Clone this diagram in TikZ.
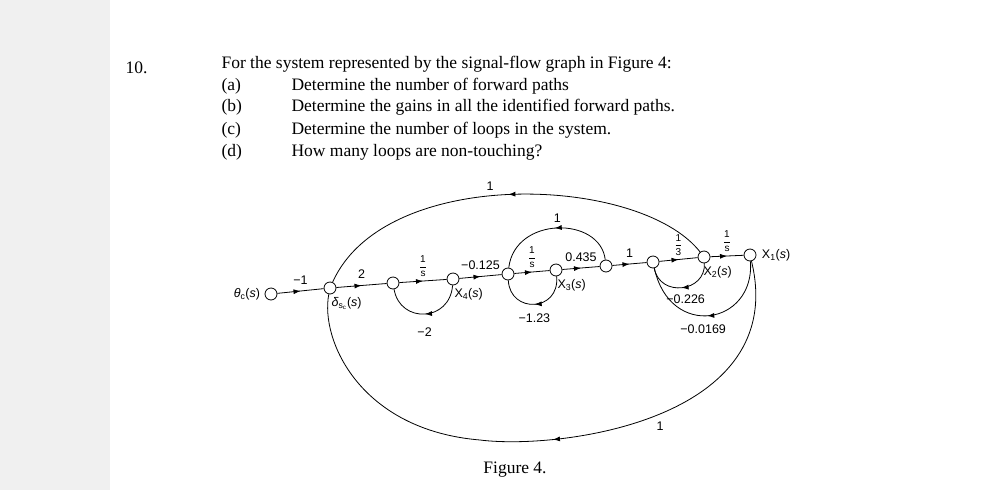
\documentclass[tikz,border=0pt]{standalone}
\usepackage{fix-cm}
\usepackage{amsmath}
\usepackage{fontspec}
\setmainfont{Liberation Serif}
\newfontfamily\lab{Liberation Sans}
\newcommand{\fr}[2]{$\displaystyle\frac{\text{#1}}{\text{#2}}$}
\usetikzlibrary{decorations.markings,arrows.meta}
\begin{document}
\begin{tikzpicture}[x=1pt,y=-1pt,
  nd/.style={circle,draw,thick,inner sep=0pt,minimum size=12pt,fill=white},
  fl/.style={thick,postaction=decorate,decoration={markings,mark=at position #1 with {\arrow{Latex[length=7pt,width=5pt]}}}},
  fl/.default=0.5,
  gl/.style={font=\lab\fontsize{12.5}{14}\selectfont},
  fg/.style={font=\lab\fontsize{10}{11}\selectfont,inner sep=1pt},
  qt/.style={anchor=west,font=\fontsize{17.5}{20}\selectfont}]
\fill[gray!12] (0,0) rectangle (1008,490);
\fill[white] (110,0) -- (1008,0) -- (1008,490) -- (110,490) -- cycle;
\useasboundingbox (0,0) rectangle (1008,490);
% question text
\node[qt] (num) at (122,68) {10.};
\node[qt] (q0) at (218,64) {For the system represented by the signal-flow graph in Figure 4:};
\node[qt] (qa) at (218,86) {(a)};
\node[qt] (qb) at (218,107) {(b)};
\node[qt] (qc) at (218,130) {(c)};
\node[qt] (qd) at (218,152) {(d)};
\node[qt] (ta) at (288,86) {Determine the number of forward paths};
\node[qt] (tb) at (288,107) {Determine the gains in all the identified forward paths.};
\node[qt] (tc) at (288,130) {Determine the number of loops in the system.};
\node[qt] (td) at (288,152) {How many loops are non-touching?};
% nodes
\node[nd] (th) at (271,294) {};
\node[nd] (d) at (330,288) {};
\node[nd] (n3) at (393,283) {};
\node[nd] (x4) at (453,279) {};
\node[nd] (n5) at (508,274) {};
\node[nd] (x3) at (556,270) {};
\node[nd] (n7) at (606,266) {};
\node[nd] (n8) at (653,262) {};
\node[nd] (x2) at (704,257) {};
\node[nd] (x1) at (750,255) {};
% forward
\draw[fl] (th) -- node[gl,above=3pt]{−1} (d);
\draw[fl] (d) -- node[gl,above=3pt]{2} (n3);
\draw[fl] (n3) -- node[fg,above=3pt]{\fr{1}{s}} (x4);
\draw[fl] (x4) -- node[gl,above=3pt]{−0.125} (n5);
\draw[fl] (n5) -- node[fg,above=3pt]{\fr{1}{s}} (x3);
\draw[fl] (x3) -- node[gl,above=3pt]{0.435} (n7);
\draw[fl] (n7) -- node[gl,above=3pt]{1} (n8);
\draw[fl] (n8) -- node[fg,above=3pt]{\fr{1}{3}} (x2);
\draw[fl] (x2) -- node[fg,above=3pt]{\fr{1}{s}} (x1);
% feedback loops
\draw[fl] (x4) .. controls (450,322) and (400,324) .. node[gl,below=10pt,pos=0.5]{−2} (n3);
\draw[fl] (x3) .. controls (560,312) and (510,314) .. node[gl,below=6pt]{−1.23} (n5);
\draw[fl] (n7) .. controls (600,216) and (515,216) .. node[gl,above=2pt]{1} (n5);
\draw[fl] (x2) .. controls (706,292) and (660,298) .. node[gl,below=4pt,pos=0.45]{−0.226} (n8);
\draw[fl] (x1) .. controls (755,325) and (670,340) .. node[gl,below=5pt,pos=0.55]{−0.0169} (n8);
\draw[fl] (x2) .. controls (640,175) and (385,165) .. node[gl,above=2pt,pos=0.55]{1} (d);
\draw[fl=0.5] (x1) .. controls (790,420) and (560,450) .. node[gl,below=4pt,pos=0.5]{1} (480,440) .. controls (360,430) and (320,340) .. (d);
% node labels
\node[gl,anchor=east] (lth) at ([xshift=-1pt]th.west) {\textit{θ}\textsubscript{c}(\textit{s})};
\node[gl,anchor=north west] (ld) at ([xshift=-2pt]d.south) {\textit{δ}\textsubscript{s\textsubscript{c}}(\textit{s})};
\node[gl,anchor=north west] (lx4) at ([xshift=-2pt]x4.south) {X\textsubscript{4}(\textit{s})};
\node[gl,anchor=north west] (lx3) at ([xshift=-2pt]x3.south) {X\textsubscript{3}(\textit{s})};
\node[gl,anchor=north west] (lx2) at ([xshift=-4pt]x2.south) {X\textsubscript{2}(\textit{s})};
\node[gl,anchor=west] (lx1) at ([xshift=2pt]x1.east) {X\textsubscript{1}(\textit{s})};
\node[font=\fontsize{17.5}{20}\selectfont] (fig) at (515,470) {Figure 4.};
\end{tikzpicture}
\end{document}
